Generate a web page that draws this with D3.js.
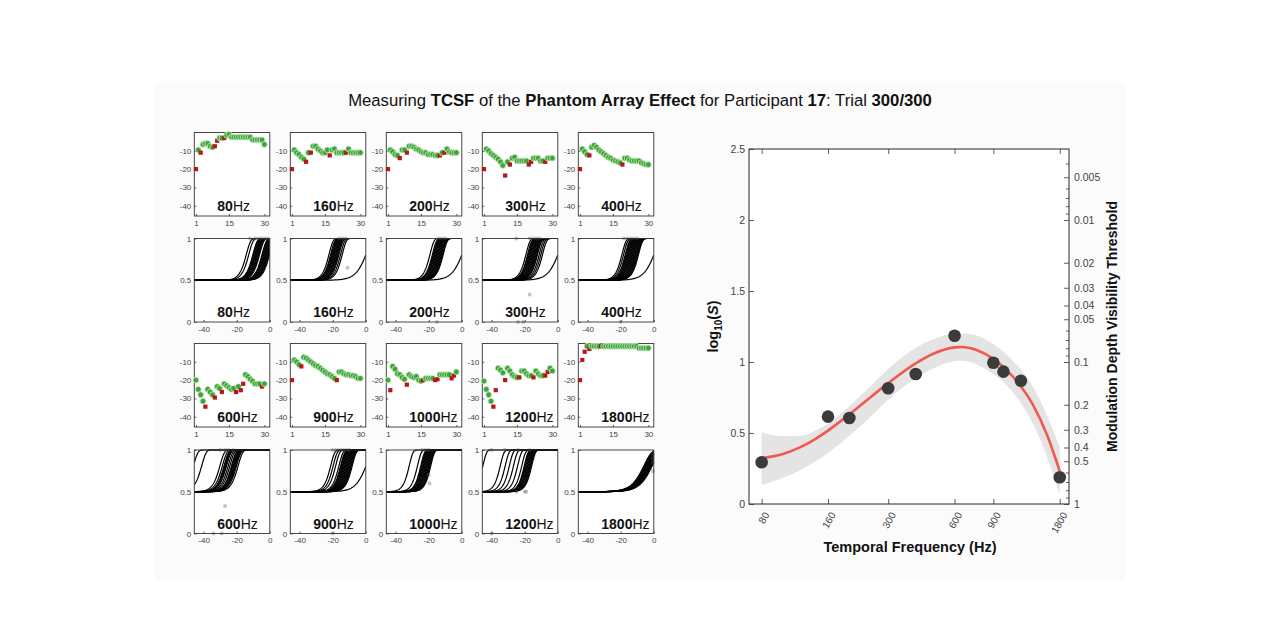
<!DOCTYPE html>
<html>
<head>
<meta charset="utf-8">
<script src="https://cdn.jsdelivr.net/npm/d3@7"></script>
<style>
  body { margin: 0; background: #fff; }
  svg { font-family: "Liberation Sans", Arial, sans-serif; }
</style>
</head>
<body>
<svg id="chart" width="1280" height="640"></svg>
<script>
// ---- data ----
var freqs = [80, 160, 200, 300, 400, 600, 900, 1000, 1200, 1800];

// staircase level per trial (1..30) and the trials that were answered wrong
var stair80 = [-20, -9.5, -11, -6.5, -6, -6, -7.5, -8, -7.5, -4.5, -3, -3, -3, -1.5, -1, -2.5, -2.5, -2.5, -2.5, -2.5, -2.5, -2.5, -2.5, -2.5, -4, -4, -4, -4, -4, -6.5];
var miss80 = [1, 3, 9, 10, 13];
var stair160 = [-20, -9.5, -11, -12, -13.5, -14.5, -16, -11, -11, -7.5, -7.5, -9, -10, -11, -11, -9.5, -12.5, -9.5, -9, -11, -11, -11, -11, -11, -9, -11, -11, -11, -11, -11];
var miss160 = [1, 7, 9, 17, 24];
var stair200 = [-20, -9.5, -10.5, -12, -12.5, -14, -9.5, -9.5, -11, -7.5, -7.5, -8, -9, -9.5, -10.5, -11, -11, -12, -12, -12, -12.5, -12.5, -12.5, -11, -11, -9, -10.5, -11, -11, -11];
var miss200 = [1, 6, 9, 23, 25];
var stair300 = [-20, -9, -10, -11.5, -12.5, -13.5, -14.5, -16, -18, -23.5, -16, -17.5, -14, -13.5, -15.5, -15.5, -15.5, -15.5, -15.5, -17.5, -16, -14, -14, -14, -15.5, -15.5, -16, -14, -14, -14];
var miss300 = [1, 10, 12, 20, 21, 27];
var stair400 = [-20, -9, -10.5, -12, -12.5, -8, -7, -8, -9.5, -10.5, -11.5, -12.5, -13.5, -14, -15, -15.5, -16, -16.5, -17.5, -14, -14, -15, -15.5, -15.5, -15.5, -15.5, -16.5, -17, -17.5, -17.5];
var miss400 = [1, 5, 19];
var stair600 = [-20, -25, -28, -31.5, -34.5, -25, -26.5, -28, -29.5, -23.5, -24.5, -26.5, -22, -23, -24, -25, -24.5, -26.5, -23.5, -25.5, -22, -17, -18, -19.5, -20.5, -22, -22, -22, -23.5, -22];
var miss600 = [5, 9, 12, 18, 20, 21, 29];
var stair900 = [-20, -9, -10, -11.5, -12.5, -7.5, -8, -9, -10, -11, -12, -12.5, -13.5, -14.5, -15.5, -16.5, -17, -18, -19, -20, -15.5, -15.5, -16.5, -17, -17, -17.5, -17.5, -18, -19, -19];
var miss900 = [1, 5, 20];
var stair1000 = [-20, -25.5, -12.5, -14, -16.5, -17, -18.5, -19.5, -22.5, -17, -18, -18.5, -18, -20, -20.5, -20, -19, -19, -19, -19, -20, -19.5, -17, -17, -17, -17, -17, -19, -17.5, -15.5];
var miss1000 = [2, 9, 16, 21, 22, 28, 29];
var stair1200 = [-20.5, -25, -28, -31.5, -34.5, -25.5, -13.5, -14.5, -16, -20, -13.5, -15, -17, -18, -18.5, -18.5, -15, -15, -16.5, -17.5, -17.5, -18.5, -15, -16.5, -17.5, -17.5, -17.5, -15.5, -13.5, -15];
var miss1200 = [5, 6, 10, 16, 22, 27, 28];
var stair1800 = [-20, -9, -4.5, -1.5, -3, -1.5, -1.5, -1.5, -1.5, -1.5, -1.5, -1.5, -1.5, -1.5, -1.5, -1.5, -1.5, -1.5, -1.5, -1.5, -1.5, -1.5, -1.5, -1.5, -1.5, -2.5, -2.5, -2.5, -2.5, -2.5];
var miss1800 = [1, 2, 3, 5, 10];

// psychometric fits: 75% points of the sampled curves, their slope,
// and the odd shallow sample that shows up at the right edge
var thr80 = [-15, -13.5, -11, -10.5, -10, -9.5, -9, -8.5, -8, -7.5, -7, -5.5, -5, -4.5, -4, -3.5, -3, -2.5, -2, -1.5, -1];
var thr160 = [-23, -22, -21.5, -21, -20.5, -20, -19.5, -19, -18.5, -18, -17.5, -17, -16, -15];
var thr200 = [-20, -18.5, -18, -17.5, -17, -16.5, -16, -15.5, -15, -14.5, -14, -13.5, -13, -12.5, -12];
var thr300 = [-20, -19, -18.5, -18, -17.5, -17, -16.5, -16, -15.5, -15, -14.5, -14, -13.5, -13, -12, -11, -10];
var thr400 = [-20, -19, -18, -17.5, -17, -16.5, -16, -15.5, -15, -14.5, -14, -13.5, -13, -12.5, -12, -11.5, -11, -10.5, -10];
var thr600 = [-47, -42, -31, -29.5, -28.5, -28, -27.5, -27, -26, -25, -24, -23.5, -23, -22.5, -22, -21.5, -21, -20];
var thr900 = [-22, -20.5, -19, -17, -16, -15.5, -15, -14.5, -14, -13.5, -13, -12.5, -12, -11.5, -11, -10.5, -10, -9.5, -9];
var thr1000 = [-32.5, -27.5, -25.5, -25, -24.5, -24, -23.5, -23, -22.5, -22, -21.5, -21, -20.5, -20, -19.5];
var thr1200 = [-46, -35.5, -32.5, -30, -27.5, -25, -22.5, -21, -20.5, -20, -19.5, -19, -18.5, -18, -17.5, -17, -16.5];
var thr1800 = [-7.5, -7, -6.5, -6, -5.5, -5, -4.5, -4, -3.5, -3, -2.5];
var slopes = [0.4, 0.42, 0.42, 0.42, 0.42, 0.38, 0.42, 0.45, 0.45, 0.22];
var shallow = [[], [-1.1], [-1.1], [-1.1], [-1.1], [], [-1.1], [], [], []];
var shallowSlope = 0.26;

// raw response dots (level, proportion)
var dots80x = [-12, -9, -7, -5, -3, -1], dots80p = [1, 1, 1, 1, 1, 1];
var dots160x = [-16, -14, -12, -11], dots160p = [1, 1, 1, 0.65];
var dots200x = [-14, -12, -10, -15], dots200p = [1, 1, 1, 0];
var dots300x = [-25, -17, -15, -13, -11, -17, -24, -21], dots300p = [1, 1, 1, 1, 1, 0.33, 0, 0];
var dots400x = [-18, -16, -14, -12, -10, -20], dots400p = [1, 1, 1, 1, 1, 0];
var dots600x = [-30, -27, -25, -22, -27, -34, -29], dots600p = [1, 1, 1, 1, 0.33, 0, 0];
var dots900x = [-20, -18, -16, -14, -12, -10, -20], dots900p = [1, 1, 1, 1, 1, 1, 0];
var dots1000x = [-24, -22, -20, -20, -19.5], dots1000p = [1, 1, 1, 0.7, 0.6];
var dots1200x = [-40, -32, -24, -17, -25, -20, -19, -40], dots1200p = [1, 1, 1, 1, 0.5, 0.5, 0.5, 0];
var dots1800x = [-0.5, -0.5, -0.5, -0.8], dots1800p = [0.95, 0.85, 0.75, 0.9];

// TCSF summary
var tcsfFreq = [80, 160, 200, 300, 400, 600, 900, 1000, 1200, 1800];
var tcsfLogS = [0.294, 0.615, 0.606, 0.815, 0.915, 1.185, 0.995, 0.932, 0.868, 0.188];
var fitFreq = [80, 100, 120, 140, 160, 200, 240, 300, 400, 480, 600, 650, 750, 900, 1000, 1200, 1360, 1570, 1800];
var fitLogS = [0.322, 0.352, 0.400, 0.457, 0.517, 0.632, 0.731, 0.851, 0.990, 1.058, 1.103, 1.106, 1.087, 1.022, 0.964, 0.829, 0.700, 0.493, 0.232];
var ciUpper = [0.505, 0.478, 0.480, 0.515, 0.565, 0.690, 0.805, 0.950, 1.100, 1.160, 1.200, 1.203, 1.188, 1.125, 1.072, 0.945, 0.825, 0.630, 0.400];
var ciLower = [0.135, 0.185, 0.240, 0.300, 0.360, 0.480, 0.590, 0.735, 0.885, 0.955, 1.005, 1.008, 0.985, 0.915, 0.858, 0.712, 0.565, 0.340, 0.065];
var freqTicks = [80, 160, 300, 600, 900, 1800];
var logSTicks = [0, 0.5, 1, 1.5, 2, 2.5];
var threshTicks = [0.005, 0.01, 0.02, 0.03, 0.04, 0.05, 0.1, 0.2, 0.3, 0.4, 0.5, 1];
var threshMinor = [0.004, 0.006, 0.007, 0.008, 0.009, 0.06, 0.07, 0.08, 0.09, 0.6, 0.7, 0.8, 0.9];

var stairs = [stair80, stair160, stair200, stair300, stair400, stair600, stair900, stair1000, stair1200, stair1800];
var misses = [miss80, miss160, miss200, miss300, miss400, miss600, miss900, miss1000, miss1200, miss1800];
var thrs = [thr80, thr160, thr200, thr300, thr400, thr600, thr900, thr1000, thr1200, thr1800];
var dotsX = [dots80x, dots160x, dots200x, dots300x, dots400x, dots600x, dots900x, dots1000x, dots1200x, dots1800x];
var dotsP = [dots80p, dots160p, dots200p, dots300p, dots400p, dots600p, dots900p, dots1000p, dots1200p, dots1800p];

// ---- layout ----
var svg = d3.select("#chart");
var colLeft = [194.3, 290.3, 386.3, 482.3, 578.3];
var rowTop = [132.5, 238.5, 343.5, 450];
var pw = 75.5, ph = 83.5;
var fmt = function (d) { return String(d); };

svg.append("rect").attr("x", 155).attr("y", 83).attr("width", 970).attr("height", 497).attr("fill", "#fbfbfb");

// title
var title = svg.append("text").attr("x", 640).attr("y", 106).attr("text-anchor", "middle")
    .attr("font-size", 16.7).attr("fill", "#111");
[["Measuring ", 0], ["TCSF", 1], [" of the ", 0], ["Phantom Array Effect", 1], [" for Participant ", 0],
 ["17", 1], [": Trial ", 0], ["300/300", 1]].forEach(function (p) {
    title.append("tspan").attr("font-weight", p[1] ? "bold" : "normal").text(p[0]);
});

function styleAxis(g, size) {
    g.select(".domain").remove();
    g.selectAll(".tick line").attr("stroke", "#333").attr("stroke-width", 0.8);
    g.selectAll(".tick text").attr("font-size", size).attr("fill", "#444").attr("font-family", null);
}

function freqLabel(g, left, top, f) {
    var t = g.append("text").attr("x", left + 23).attr("y", top + 78.5).attr("font-size", 14).attr("fill", "#111");
    t.append("tspan").attr("font-weight", "bold").text(f);
    t.append("tspan").text("Hz");
}

function drawStair(i, left, top) {
    var g = svg.append("g");
    var x = d3.scaleLinear().domain([0.3, 32.3]).range([left, left + pw]);
    var y = d3.scaleLinear().domain([-45.6, 0]).range([top + ph, top]);
    g.append("rect").attr("x", left).attr("y", top).attr("width", pw).attr("height", ph)
        .attr("fill", "#fff").attr("stroke", "#333").attr("stroke-width", 0.9);
    g.append("g").attr("transform", "translate(0," + (top + ph) + ")")
        .call(d3.axisBottom(x).tickValues([1, 15, 30]).tickSize(-2).tickPadding(4).tickFormat(fmt))
        .call(styleAxis, 8);
    g.append("g").attr("transform", "translate(" + left + ",0)")
        .call(d3.axisLeft(y).tickValues([-10, -20, -30, -40]).tickSize(-2).tickPadding(3).tickFormat(fmt))
        .call(styleAxis, 8);
    var pts = stairs[i].map(function (v, k) { return { trial: k + 1, v: v, miss: misses[i].indexOf(k + 1) >= 0 }; });
    pts.forEach(function (d) {
        if (d.miss) {
            g.append("rect").attr("x", x(d.trial) - 2.1).attr("y", y(d.v) - 2.1).attr("width", 4.2).attr("height", 4.2)
                .attr("fill", "#b3181b");
        } else {
            g.append("circle").attr("cx", x(d.trial)).attr("cy", y(d.v)).attr("r", 2.9)
                .attr("fill", "#3ea638").attr("stroke", "#d8f0d2").attr("stroke-width", 0.7);
        }
    });
    freqLabel(g, left, top, freqs[i]);
}

function drawPsych(i, left, top) {
    var g = svg.append("g");
    var x = d3.scaleLinear().domain([-45.6, 0]).range([left, left + pw]);
    var y = d3.scaleLinear().domain([0, 1]).range([top + ph, top]);
    g.append("rect").attr("x", left).attr("y", top).attr("width", pw).attr("height", ph)
        .attr("fill", "#fff").attr("stroke", "none");
    var clipId = "clip" + i;
    svg.append("clipPath").attr("id", clipId).append("rect")
        .attr("x", left).attr("y", top - 1).attr("width", pw).attr("height", ph + 2);
    var xs = d3.range(-45.6, 0.001, 0.3);
    var line = d3.line().x(function (d) { return x(d[0]); }).y(function (d) { return y(d[1]); });
    // Weibull fit in dB (gumbel), 2AFC guess rate 0.5
    function curve(t, k) {
        return xs.map(function (v) {
            var z = k * (v - t) + Math.log(Math.LN2);
            return [v, 0.5 + 0.5 * (1 - Math.exp(-Math.exp(z)))];
        });
    }
    var cg = g.append("g").attr("clip-path", "url(#" + clipId + ")");
    thrs[i].forEach(function (t) {
        cg.append("path").attr("d", line(curve(t, slopes[i]))).attr("fill", "none")
            .attr("stroke", "#000").attr("stroke-width", 1.2);
    });
    shallow[i].forEach(function (t) {
        cg.append("path").attr("d", line(curve(t, shallowSlope))).attr("fill", "none")
            .attr("stroke", "#000").attr("stroke-width", 1.2);
    });
    dotsX[i].forEach(function (v, k) {
        g.append("circle").attr("cx", x(v)).attr("cy", y(dotsP[i][k])).attr("r", 2)
            .attr("fill", "#555").attr("fill-opacity", 0.35);
    });
    g.append("rect").attr("x", left).attr("y", top).attr("width", pw).attr("height", ph)
        .attr("fill", "none").attr("stroke", "#333").attr("stroke-width", 0.9);
    g.append("g").attr("transform", "translate(0," + (top + ph) + ")")
        .call(d3.axisBottom(x).tickValues([-40, -20, 0]).tickSize(-2).tickPadding(4).tickFormat(fmt))
        .call(styleAxis, 8);
    g.append("g").attr("transform", "translate(" + left + ",0)")
        .call(d3.axisLeft(y).tickValues([0, 0.5, 1]).tickSize(-2).tickPadding(3).tickFormat(fmt))
        .call(styleAxis, 8);
    freqLabel(g, left, top, freqs[i]);
}

freqs.forEach(function (f, i) {
    var col = i % 5, block = Math.floor(i / 5);
    drawStair(i, colLeft[col], rowTop[block * 2]);
    drawPsych(i, colLeft[col], rowTop[block * 2 + 1]);
});

// ---- TCSF panel ----
var X0 = 749, X1 = 1069, Y0 = 504, Y1 = 149;
var x = d3.scaleLog().domain([70.1, 1983]).range([X0, X1]);
var y = d3.scaleLinear().domain([0, 2.5]).range([Y0, Y1]);
var yTh = d3.scaleLog().domain([1, Math.pow(10, -2.5)]).range([Y0, Y1]);
var main = svg.append("g");

main.append("rect").attr("x", X0).attr("y", Y1).attr("width", X1 - X0).attr("height", Y0 - Y1).attr("fill", "#fff");

var band = d3.area()
    .x(function (d, k) { return x(fitFreq[k]); })
    .y0(function (d, k) { return y(ciLower[k]); })
    .y1(function (d, k) { return y(ciUpper[k]); })
    .curve(d3.curveMonotoneX);
main.append("path").attr("d", band(fitFreq)).attr("fill", "#e4e4e4");

var fit = d3.line()
    .x(function (d, k) { return x(fitFreq[k]); })
    .y(function (d, k) { return y(fitLogS[k]); })
    .curve(d3.curveMonotoneX);
main.append("path").attr("d", fit(fitFreq)).attr("fill", "none").attr("stroke", "#f05a4e").attr("stroke-width", 2.6);

main.selectAll(".pt").data(tcsfFreq).enter().append("circle")
    .attr("cx", function (d) { return x(d); })
    .attr("cy", function (d, k) { return y(tcsfLogS[k]); })
    .attr("r", 6.3).attr("fill", "#3b3b3b");

main.append("rect").attr("x", X0).attr("y", Y1).attr("width", X1 - X0).attr("height", Y0 - Y1)
    .attr("fill", "none").attr("stroke", "#262626").attr("stroke-width", 1);

main.append("g").attr("transform", "translate(" + X0 + ",0)")
    .call(d3.axisLeft(y).tickValues(logSTicks).tickSize(-5).tickPadding(4).tickFormat(fmt))
    .call(styleAxis, 10.5);
main.append("g").attr("transform", "translate(0," + Y1 + ")")
    .call(d3.axisTop(x).tickValues(freqTicks).tickSize(-5).tickFormat(""))
    .call(styleAxis, 10);
main.append("g").attr("transform", "translate(0," + Y0 + ")")
    .call(d3.axisBottom(x).tickValues(freqTicks).tickSize(-5).tickFormat(""))
    .call(styleAxis, 10);
main.selectAll(".xlab").data(freqTicks).enter().append("text")
    .attr("transform", function (d) { return "translate(" + (x(d) + 5) + "," + (Y0 + 9) + ") rotate(-60)"; })
    .attr("text-anchor", "end").attr("dy", "0.35em").attr("font-size", 10).attr("fill", "#444")
    .text(fmt);
main.append("g").attr("transform", "translate(" + X1 + ",0)")
    .call(d3.axisRight(yTh).tickValues(threshTicks).tickSize(-5).tickPadding(5).tickFormat(fmt))
    .call(styleAxis, 10.5);
main.append("g").attr("transform", "translate(" + X1 + ",0)")
    .call(d3.axisRight(yTh).tickValues(threshMinor).tickSize(-3).tickFormat(""))
    .call(styleAxis, 10);

main.append("text").attr("x", 910).attr("y", 552).attr("text-anchor", "middle")
    .attr("font-size", 14.5).attr("font-weight", "bold").attr("fill", "#111").text("Temporal Frequency (Hz)");
var yl = main.append("text").attr("transform", "translate(718," + ((Y0 + Y1) / 2) + ") rotate(-90)")
    .attr("text-anchor", "middle").attr("font-size", 14.5).attr("font-weight", "bold").attr("fill", "#111");
yl.append("tspan").text("log");
yl.append("tspan").attr("font-size", 10).attr("dy", 4).text("10");
yl.append("tspan").attr("dy", -4).text("(");
yl.append("tspan").attr("font-style", "italic").text("S");
yl.append("tspan").text(")");
main.append("text").attr("transform", "translate(1117," + ((Y0 + Y1) / 2) + ") rotate(-90)")
    .attr("text-anchor", "middle").attr("font-size", 14).attr("font-weight", "bold").attr("fill", "#111")
    .text("Modulation Depth Visibility Threshold");
</script>
</body>
</html>
